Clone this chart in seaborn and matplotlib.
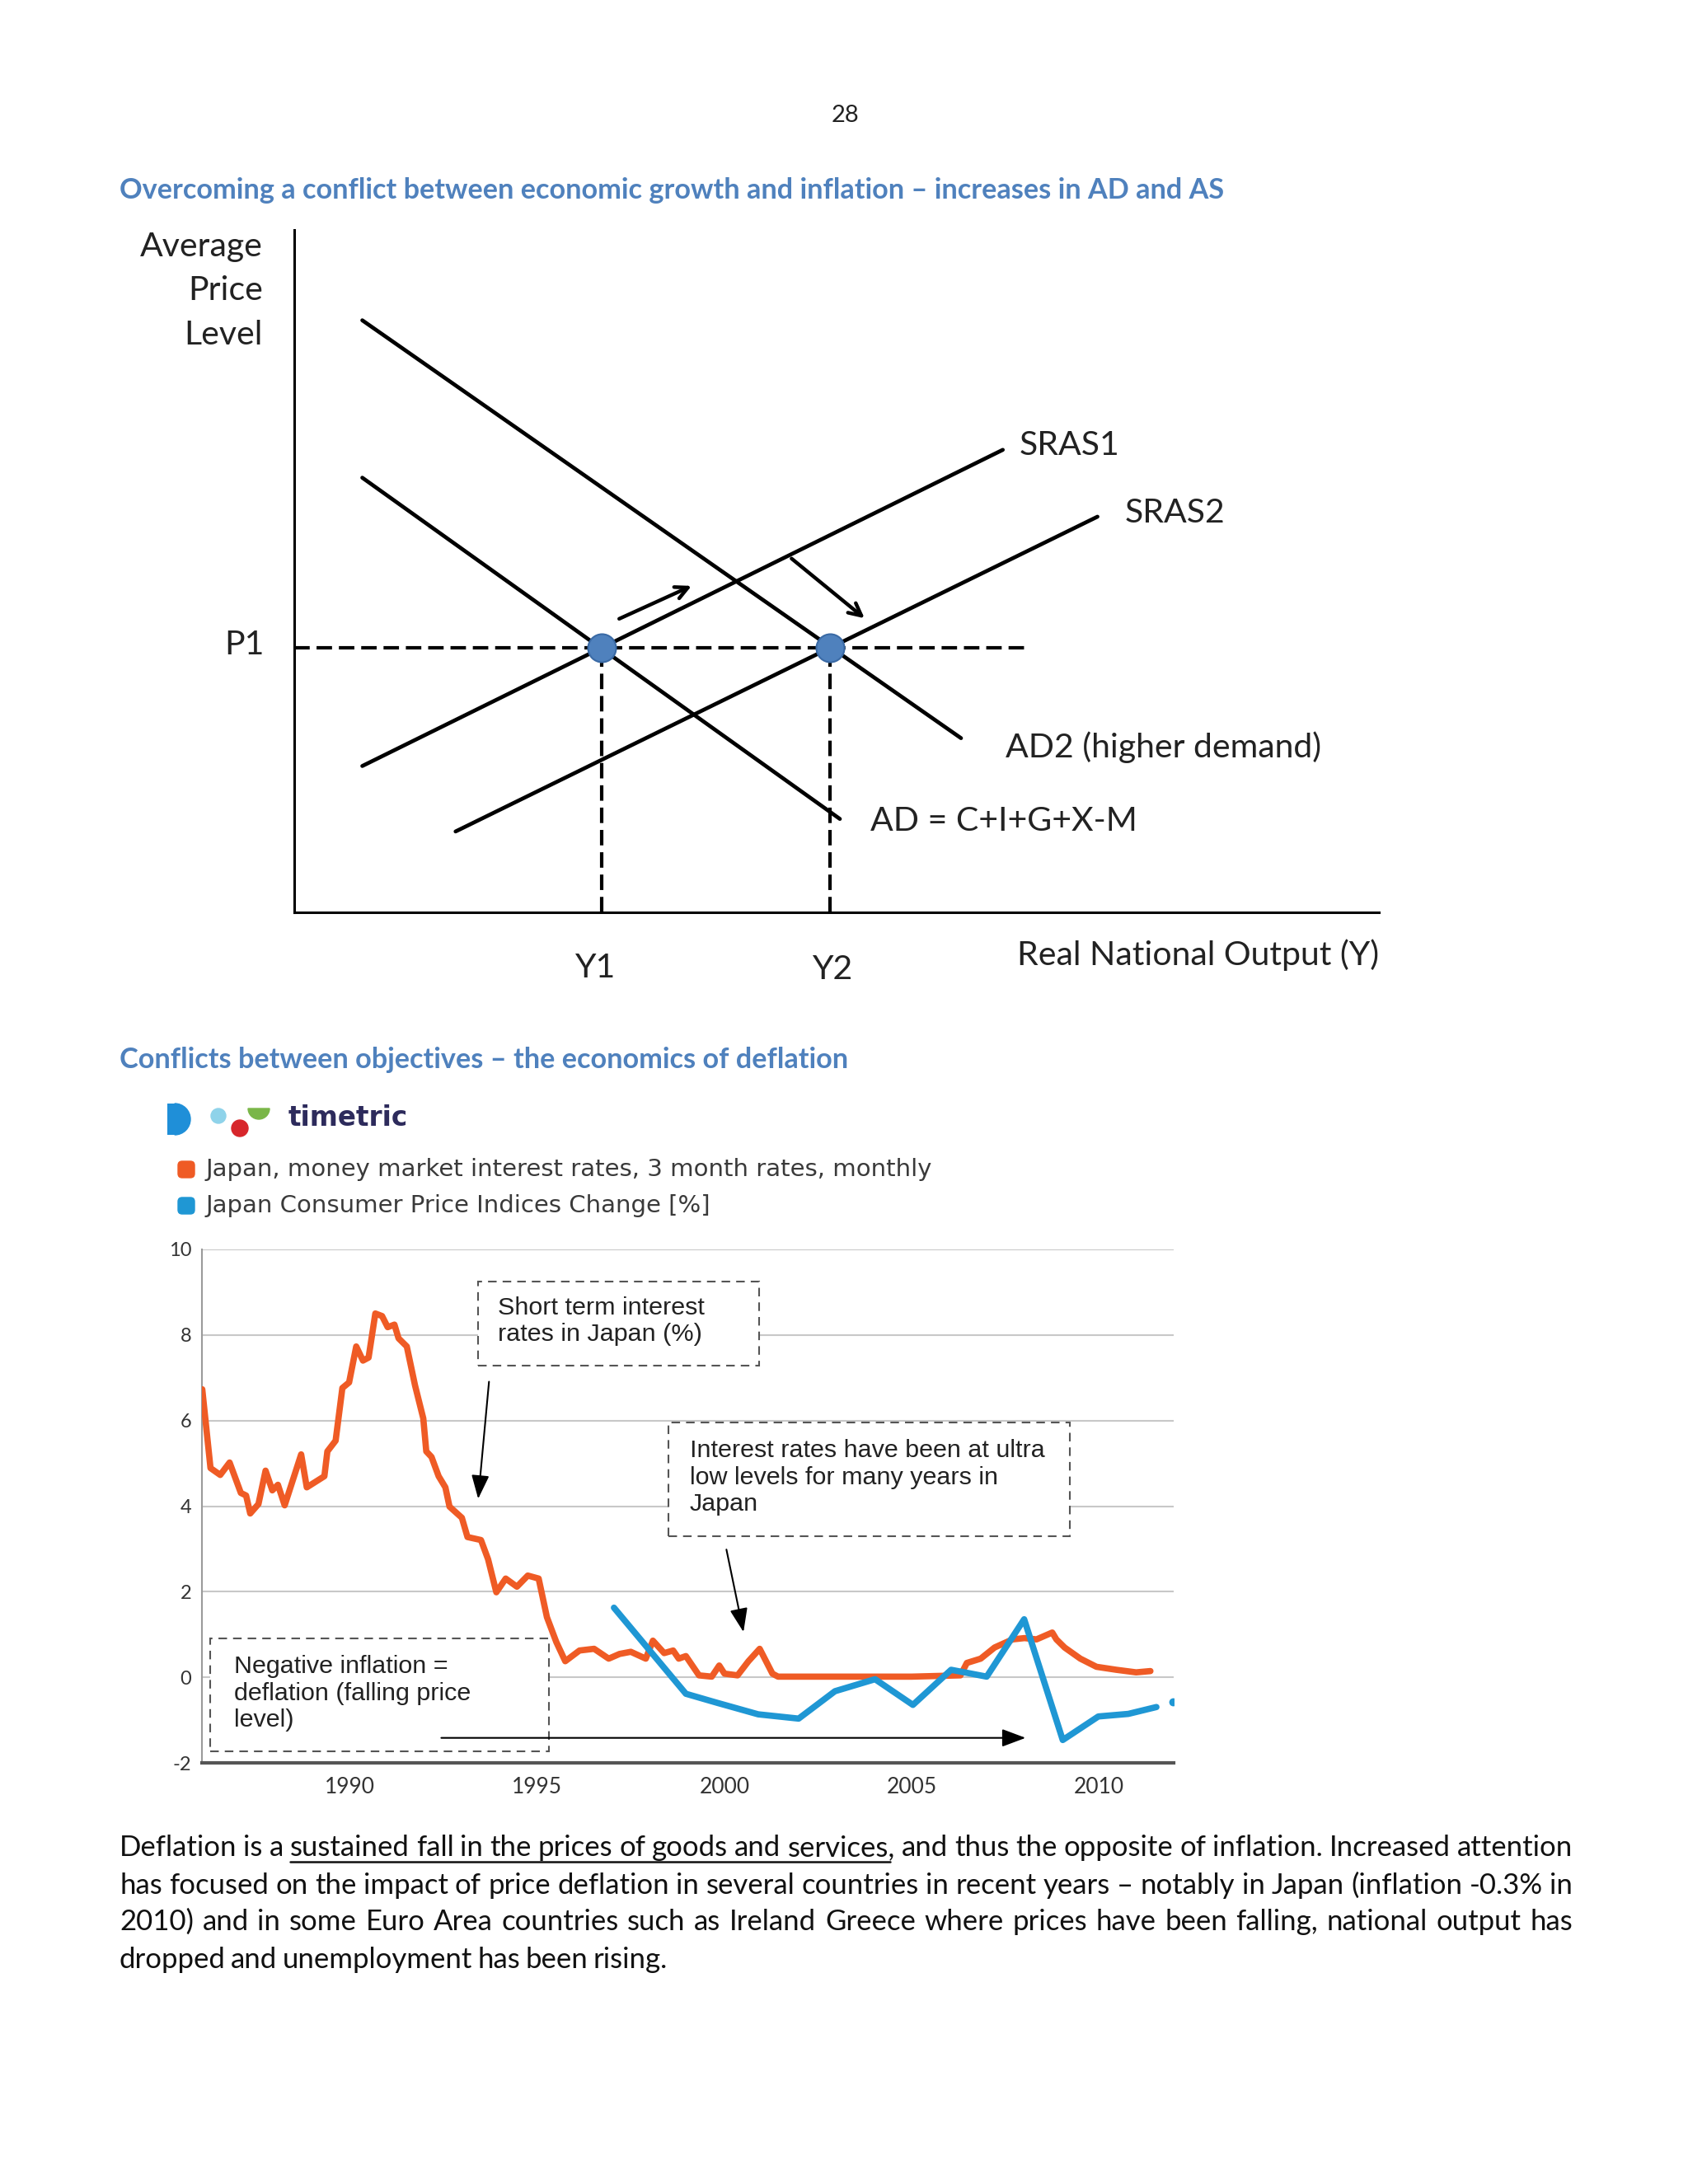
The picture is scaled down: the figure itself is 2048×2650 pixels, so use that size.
import matplotlib
matplotlib.use("Agg")
import matplotlib.pyplot as plt
import seaborn as sns
import pandas as pd
from matplotlib.patches import Rectangle, Wedge, Circle, FancyBboxPatch

# Japan, money market interest rate, 3 month (%)
rate_year = [1986.06, 1986.28, 1986.54, 1986.79, 1987.09, 1987.23, 1987.34, 1987.56, 1987.75, 1987.93,
             1988.08, 1988.26, 1988.70, 1988.85, 1989.32, 1989.40, 1989.62, 1989.80, 1989.98, 1990.17,
             1990.35, 1990.50, 1990.68, 1990.86, 1991.01, 1991.19, 1991.30, 1991.52, 1991.74, 1991.96,
             1992.04, 1992.18, 1992.37, 1992.55, 1992.66, 1992.99, 1993.14, 1993.50, 1993.69, 1993.91,
             1994.16, 1994.46, 1994.75, 1995.04, 1995.26, 1995.51, 1995.75, 1996.13, 1996.52, 1996.91,
             1997.20, 1997.50, 1997.90, 1998.09, 1998.39, 1998.63, 1998.78, 1998.97, 1999.32, 1999.66,
             1999.86, 2000.00, 2000.35, 2000.64, 2000.94, 2001.28, 2001.43, 2003.00, 2005.00, 2006.30,
             2006.47, 2006.84, 2007.21, 2007.69, 2008.01, 2008.33, 2008.75, 2008.86, 2009.08, 2009.50,
             2009.93, 2010.46, 2010.99, 2011.37]
rate_val = [6.73, 4.89, 4.73, 5.02, 4.31, 4.25, 3.83, 4.05, 4.83, 4.37,
            4.50, 4.02, 5.21, 4.44, 4.70, 5.28, 5.53, 6.76, 6.89, 7.73,
            7.40, 7.47, 8.50, 8.44, 8.18, 8.24, 7.92, 7.73, 6.82, 6.05,
            5.28, 5.15, 4.70, 4.44, 3.99, 3.73, 3.28, 3.21, 2.76, 1.99,
            2.31, 2.12, 2.38, 2.31, 1.41, 0.83, 0.38, 0.63, 0.67, 0.44,
            0.55, 0.60, 0.44, 0.86, 0.57, 0.63, 0.44, 0.50, 0.05, 0.02,
            0.28, 0.09, 0.05, 0.38, 0.67, 0.09, 0.02, 0.02, 0.02, 0.05,
            0.34, 0.44, 0.70, 0.89, 0.92, 0.89, 1.05, 0.89, 0.70, 0.44,
            0.25, 0.18, 0.12, 0.15]

# Japan consumer price indices change (%)
cpi_year = [1997.05, 1998.97, 1999.80, 2000.90, 2001.98, 2002.95, 2004.02, 2005.03,
            2006.05, 2007.00, 2008.00, 2009.03, 2009.98, 2010.78, 2011.53]
cpi_val = [1.63, -0.38, -0.59, -0.86, -0.96, -0.32, -0.04, -0.64,
           0.18, 0.02, 1.36, -1.46, -0.91, -0.85, -0.69]
cpi_last_year = [2011.96]
cpi_last_val = [-0.56]

y_ticks = [-2, 0, 2, 4, 6, 8, 10]
x_ticks = [1990, 1995, 2000, 2005, 2010]

# AD / AS diagram, schematic units
ad_x, ad_y = [4.9, 39.2], [31.2, 6.7]
ad2_x, ad2_y = [4.9, 47.9], [42.5, 12.5]
sras1_x, sras1_y = [4.9, 50.9], [10.5, 33.2]
sras2_x, sras2_y = [11.6, 57.7], [5.8, 28.4]
p1 = 19.0
y1, y2 = 22.1, 38.5
p1_end = 52.9

para_lines = [
    "Deflation is a sustained fall in the prices of goods and services, and thus the opposite of inflation. Increased attention",
    "has focused on the impact of price deflation in several countries in recent years \u2013 notably in Japan (inflation -0.3% in",
    "2010) and in some Euro Area countries such as Ireland Greece where prices have been falling, national output has",
    "dropped and unemployment has been rising.",
]

ORANGE = '#EF5B25'
BLUE = '#1F97D4'
HEAD = '#4F81BD'
NOTE_FONT = ['Liberation Sans', 'DejaVu Sans']

sns.set_theme(style="white")
plt.rcParams['font.family'] = ['Lato', 'DejaVu Sans']
plt.rcParams['axes.unicode_minus'] = False

fig = plt.figure(figsize=(20.48, 26.5), dpi=100)
r = fig.canvas.get_renderer()


def fit(t, width):
    w = t.get_window_extent(r).width
    t.set_fontsize(t.get_fontsize() * width / w)
    return t.get_fontsize()


# page layer in pixel coordinates
pg = fig.add_axes([0, 0, 1, 1], zorder=-1)
pg.set_xlim(0, 2048)
pg.set_ylim(2650, 0)
pg.axis('off')

pg.text(1026, 140, '28', ha='center', va='center', size=21, color='#222')
t = pg.text(145, 231, 'Overcoming a conflict between economic growth and inflation \u2013 increases in AD and AS',
            ha='left', va='center', size=20, weight='bold', color=HEAD)
fit(t, 1338)
t = pg.text(145, 1286, 'Conflicts between objectives \u2013 the economics of deflation',
            ha='left', va='center', size=20, weight='bold', color=HEAD)
fit(t, 885)

# diagram labels
lab = dict(size=29.5, color='#222', va='center')
for s, yy in [('Average', 299), ('Price', 353), ('Level', 407)]:
    pg.text(319, yy, s, ha='right', **lab)
pg.text(296, 782, 'P1', ha='center', **lab)
pg.text(722, 1174, 'Y1', ha='center', **lab)
pg.text(1010, 1176, 'Y2', ha='center', **lab)
pg.text(1234, 1159, 'Real National Output (Y)', ha='left', **lab)
pg.text(1237, 541, 'SRAS1', ha='left', **lab)
pg.text(1365, 622, 'SRAS2', ha='left', **lab)
pg.text(1220, 907, 'AD2 (higher demand)', ha='left', **lab)
pg.text(1056, 997, 'AD = C+I+G+X-M', ha='left', **lab)

# timetric logo and legend
pg.add_patch(Rectangle((203, 1339), 9, 38, color='#1F8FD8', lw=0))
pg.add_patch(Wedge((212, 1358), 19, -90, 90, color='#1F8FD8'))
pg.add_patch(Circle((265, 1354), 9, color='#8FD3EA'))
pg.add_patch(Circle((291, 1369), 10, color='#D7262B'))
pg.add_patch(Wedge((314, 1345), 13, 0, 180, color='#7AB648'))
t = pg.text(350, 1357, 'timetric', ha='left', va='center', size=23, weight='bold',
            color='#2D2B5C', family=['DejaVu Sans'])
fit(t, 145)
pg.add_patch(FancyBboxPatch((216, 1409), 20, 20, boxstyle='round,pad=0,rounding_size=5', color=ORANGE))
pg.add_patch(FancyBboxPatch((216, 1453), 20, 20, boxstyle='round,pad=0,rounding_size=5', color=BLUE))
t = pg.text(250, 1419, 'Japan, money market interest rates, 3 month rates, monthly', ha='left', va='center',
            size=17, color='#3A3A3A', family=['DejaVu Sans'])
fit(t, 880)
pg.text(250, 1463, 'Japan Consumer Price Indices Change [%]', ha='left', va='center',
        size=t.get_fontsize(), color='#3A3A3A', family=['DejaVu Sans'])

# justified paragraph
para_y = [2242, 2288, 2332, 2378]
x0, x1 = 145, 1908
for i, (line, yy) in enumerate(zip(para_lines, para_y)):
    words = line.split(' ')
    objs = [pg.text(0, yy, w, ha='left', va='center', size=25, color='#111') for w in words]
    widths = [o.get_window_extent(r).width for o in objs]
    sp = objs[0].get_fontsize() * 0.25
    gap = (x1 - x0 - sum(widths)) / (len(words) - 1) if i < 3 else sp
    x = x0
    lefts = []
    for o, w in zip(objs, widths):
        o.set_x(x)
        lefts.append((x, x + w))
        x += w + gap
    if i == 0:
        pg.plot([lefts[3][0], lefts[11][1] - 6], [yy + 17, yy + 17], color='#111', lw=1.8)

# ---- AD/AS diagram ----
ax2 = fig.add_axes([0.1742, 0.5823, 0.6426, 0.3125])
ax2.patch.set_alpha(0)
for xs, ys in [(ad_x, ad_y), (ad2_x, ad2_y), (sras1_x, sras1_y), (sras2_x, sras2_y)]:
    sns.lineplot(x=xs, y=ys, color='black', lw=3.4, ax=ax2)
ax2.plot([0, p1_end], [p1, p1], color='black', lw=3, ls=(0, (4.5, 2)))
ax2.plot([y1, y1], [0, p1], color='black', lw=3, ls=(0, (4.5, 2)))
ax2.plot([y2, y2], [0, p1], color='black', lw=3, ls=(0, (4.5, 2)))
sns.scatterplot(x=[y1, y2], y=[p1, p1], s=600, color=HEAD, edgecolor='#3A6AA5', linewidth=1.5,
                zorder=5, ax=ax2)
arw = dict(arrowstyle='->,head_length=0.9,head_width=0.45', lw=3.2, color='black')
ax2.annotate('', xy=(28.7, 23.5), xytext=(23.2, 21.0), arrowprops=arw)
ax2.annotate('', xy=(41.1, 21.0), xytext=(35.6, 25.5), arrowprops=arw)
ax2.set_xlim(0, 77.9)
ax2.set_ylim(0, 49)
ax2.set_xticks([])
ax2.set_yticks([])
for s in ['top', 'right']:
    ax2.spines[s].set_visible(False)
for s in ['left', 'bottom']:
    ax2.spines[s].set_color('black')
    ax2.spines[s].set_linewidth(2.2)

# ---- Japan rates vs CPI ----
ax = fig.add_axes([0.1196, 0.1927, 0.5759, 0.2353])
rates = pd.DataFrame({'year': rate_year, 'rate': rate_val})
cpi = pd.DataFrame({'year': cpi_year, 'cpi': cpi_val})
sns.lineplot(data=rates, x='year', y='rate', color=ORANGE, lw=5.5, ax=ax, zorder=4)
sns.lineplot(data=cpi, x='year', y='cpi', color=BLUE, lw=5.5, ax=ax, zorder=4)
sns.scatterplot(x=cpi_last_year, y=cpi_last_val, color=BLUE, s=50, linewidth=0, ax=ax, zorder=4)
ax.set_xlim(1986.05, 2012.0)
ax.set_ylim(-2, 10)
ax.set_xticks(x_ticks)
ax.set_yticks(y_ticks)
ax.set_xlabel('')
ax.set_ylabel('')
ax.grid(axis='y', color='#C8C8C8', lw=1.5)
ax.grid(axis='x', visible=False)
ax.set_axisbelow(True)
ax.tick_params(axis='y', length=0, labelsize=17, labelcolor='#333', pad=9)
ax.tick_params(axis='x', length=0, labelsize=19, labelcolor='#333', pad=12)
for s in ['top', 'right']:
    ax.spines[s].set_visible(False)
ax.spines['left'].set_color('#9A9A9A')
ax.spines['left'].set_linewidth(1.5)
ax.spines['bottom'].set_color('#555')
ax.spines['bottom'].set_linewidth(3)

box = dict(facecolor='white', edgecolor='#555', lw=1.5, ls=(0, (5, 3.5)), zorder=5)
note = dict(ha='left', va='center', size=22, color='#222', family=NOTE_FONT, linespacing=1.2, zorder=6)
probe = pg.text(0, 0, 'Short term interest', size=22, family=NOTE_FONT)
note['size'] = fit(probe, 250)
probe.remove()
ax.add_patch(Rectangle((1993.42, 7.29), 7.51, 1.96, **box))
ax.text(1993.94, 8.32, 'Short term interest\nrates in Japan (%)', **note)
ax.add_patch(Rectangle((1998.51, 3.30), 10.71, 2.65, **box))
ax.text(1999.07, 4.67, 'Interest rates have been at ultra\nlow levels for many years in\nJapan', **note)
ax.add_patch(Rectangle((1986.28, -1.73), 9.04, 2.65, **box))
ax.text(1986.91, -0.37, 'Negative inflation =\ndeflation (falling price\nlevel)', **note)

thin = dict(arrowstyle='-|>,head_length=0.8,head_width=0.3', color='black', lw=1.5, mutation_scale=22)
ax.annotate('', xy=(1993.42, 4.12), xytext=(1993.72, 6.96), arrowprops=thin, zorder=7)
ax.annotate('', xy=(2000.52, 1.01), xytext=(2000.04, 3.04), arrowprops=thin, zorder=7)
ax.annotate('', xy=(2008.10, -1.41), xytext=(1992.38, -1.41), arrowprops=thin, zorder=7)

fig.savefig('out.png', dpi=100, facecolor='white')
